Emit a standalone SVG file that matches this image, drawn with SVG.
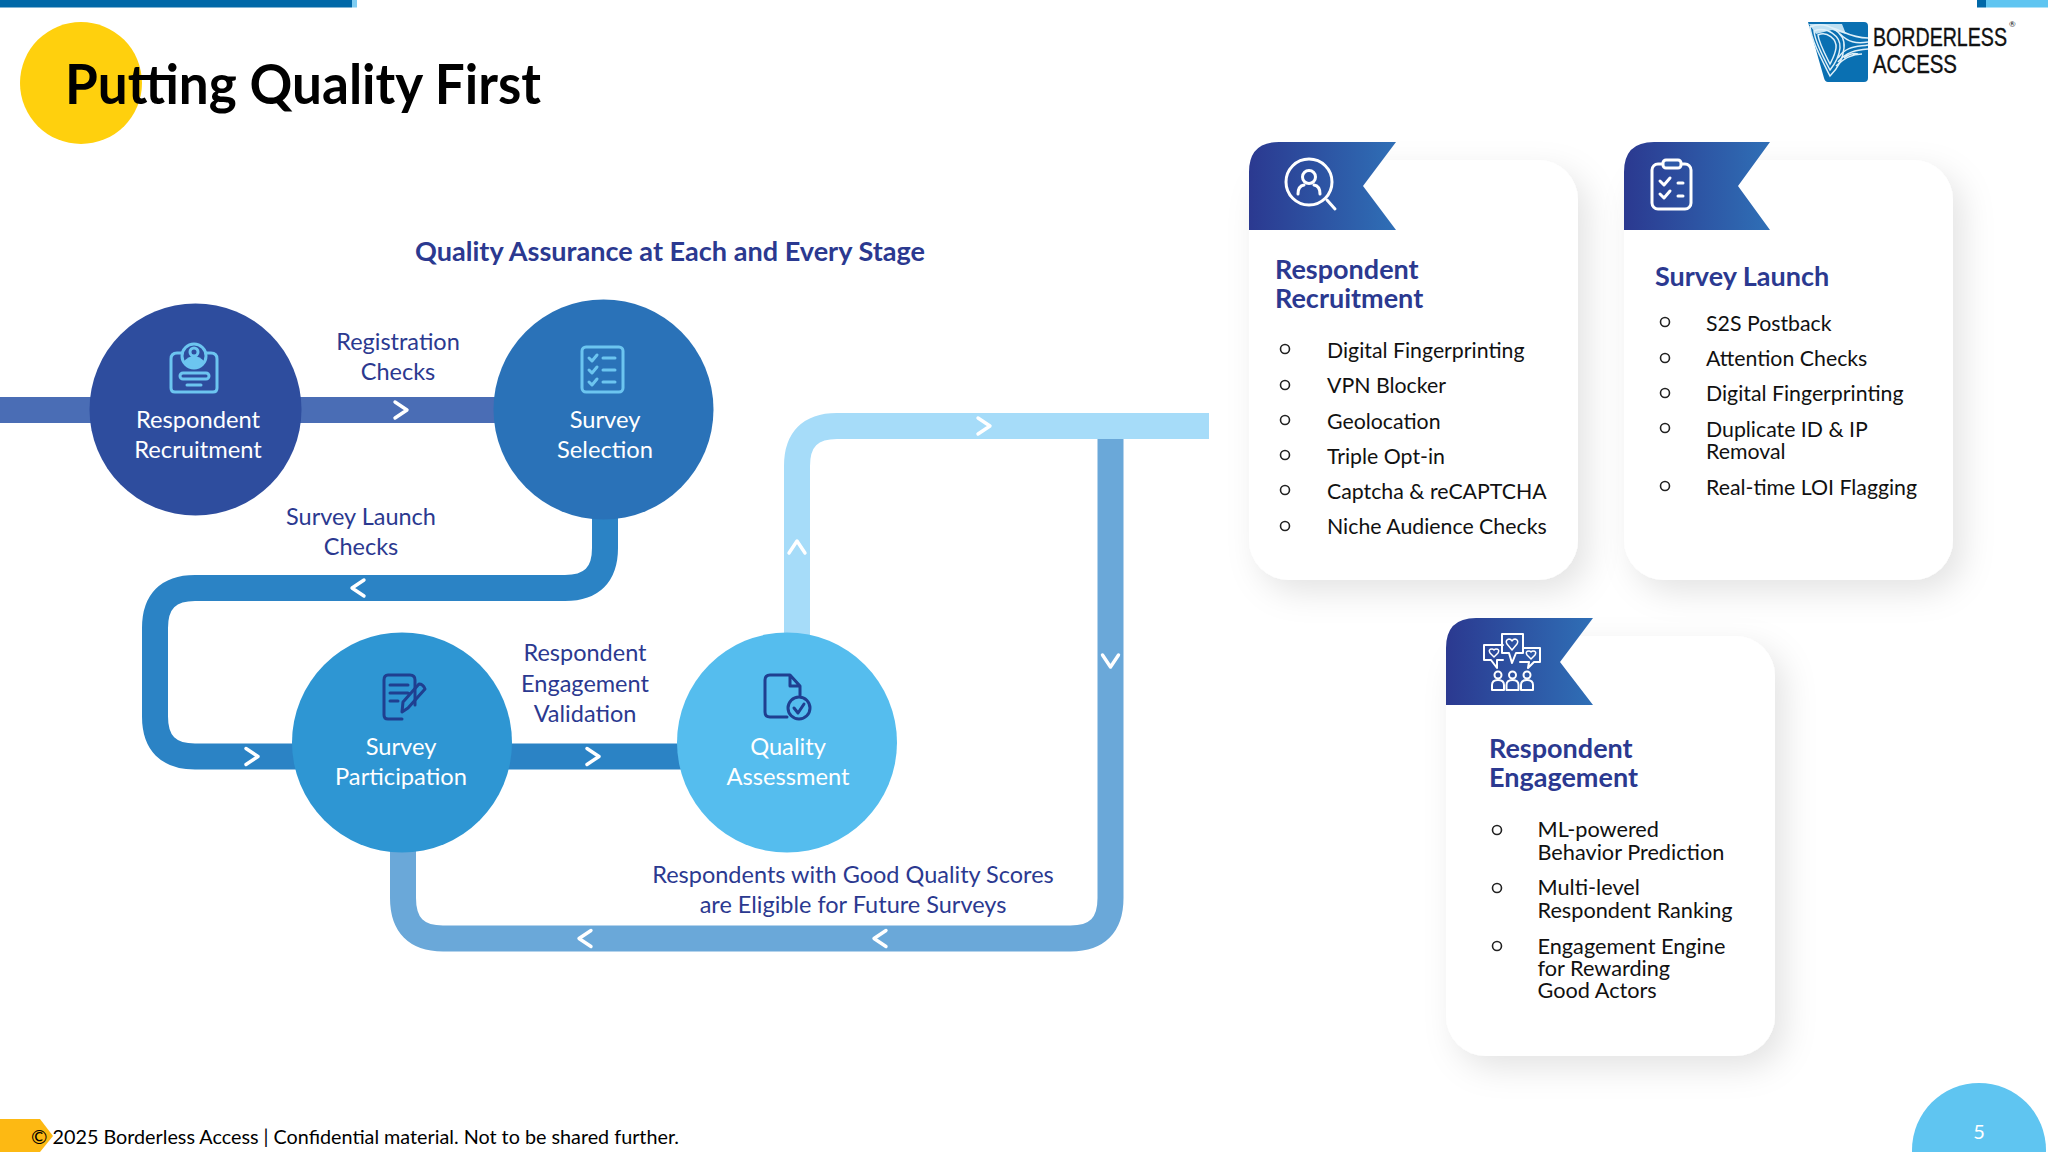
<svg xmlns="http://www.w3.org/2000/svg" width="2048" height="1152" viewBox="0 0 2048 1152">
<style>
text{font-family:Lato,"Liberation Sans",sans-serif}
.lbl{font-size:23.5px;fill:#2b3990;text-anchor:middle}
.cir{font-size:23.7px;fill:#fff;text-anchor:middle}
.h{font-size:27px;font-weight:700;fill:#2b3990}
.it{font-size:21.3px;fill:#111}
.it3{font-size:21.7px;fill:#111}
.b{fill:none;stroke:#222;stroke-width:1.6}
.card{fill:#fff;filter:url(#sh)}
.ch{fill:none;stroke:#fff;stroke-width:3.4;stroke-linecap:round;stroke-linejoin:round}
.pipe{fill:none;stroke-width:26}
.w{fill:none;stroke:#fff;stroke-width:3;stroke-linecap:round;stroke-linejoin:round}
.t{fill:none;stroke:#fff;stroke-width:2;stroke-linecap:round;stroke-linejoin:round}
.li{fill:none;stroke:#6cc5f0;stroke-width:3;stroke-linecap:round;stroke-linejoin:round}
.da{fill:none;stroke:#1f3f90;stroke-width:3;stroke-linecap:round;stroke-linejoin:round}
.sw{fill:none;stroke:#dff0f9;stroke-width:1.5}
.lg{font-size:25px;fill:#111;stroke:#111;stroke-width:.35;font-family:"Liberation Sans",sans-serif}
</style>
<defs>
<filter id="sh" x="-30%" y="-30%" width="160%" height="160%"><feDropShadow dx="10" dy="12" stdDeviation="16" flood-color="#000" flood-opacity="0.11"/></filter>
<linearGradient id="rib" x1="0" x2="1" y1="0" y2="0"><stop offset="0" stop-color="#2b3990"/><stop offset="1" stop-color="#2f6fb6"/></linearGradient>
<path id="chev" d="M-6-8 L6 0 L-6 8" class="ch"/>
</defs>
<rect width="2048" height="1152" fill="#fff"/>
<g id="header">
<rect x="0" y="0" width="352" height="7.5" fill="#0068a8"/><rect x="352" y="0" width="5" height="7.5" fill="#7fcdf2"/>
<rect x="1977" y="0" width="9" height="7.5" fill="#0068a8"/><rect x="1986" y="0" width="62" height="7.5" fill="#5fc5f1"/>
<circle cx="81" cy="83" r="61" fill="#ffd00d"/>
<text x="65" y="104" font-weight="700" fill="#000" style="font-size:56px" textLength="476" lengthAdjust="spacingAndGlyphs">Putting Quality First</text>
</g>
<g id="logo">
<path d="M1808 22H1864Q1868 22 1868 26V78Q1868 82 1864 82H1828Q1825 82 1824 78Z" fill="#0a70b2"/>
<path d="M1809 24H1842L1846 34L1832 30L1816 34Z" fill="#bfe0f2"/>
<path class="sw" d="M1810 27C1826 20 1846 32 1844 48C1843 60 1836 70 1830 76C1822 60 1812 42 1810 27Z"/>
<path class="sw" d="M1814 31C1827 26 1841 36 1840 48C1839 58 1834 65 1830 70C1823 57 1815 42 1814 31Z"/>
<path class="sw" d="M1818 35C1827 31 1837 39 1836 48C1835 55 1832 60 1830 64C1825 54 1819 43 1818 35Z"/>
<path class="sw" d="M1832 28C1842 30 1850 38 1868 38M1840 34C1848 42 1856 44 1868 42M1838 58C1846 46 1856 47 1868 45M1838 62C1846 52 1856 50 1868 49M1836 66C1844 58 1854 54 1862 54M1844 58Q1852 52 1858 54"/>
<text class="lg" x="1873" y="46" textLength="134" lengthAdjust="spacingAndGlyphs">BORDERLESS</text>
<text class="lg" x="1873" y="73" textLength="84" lengthAdjust="spacingAndGlyphs">ACCESS</text>
<text x="2009" y="27" fill="#111" style="font-size:8px">®</text>
</g>
<text id="stage-title" x="415" y="261" style="font-size:27.5px;font-weight:700;fill:#2b3990" textLength="510" lengthAdjust="spacingAndGlyphs">Quality Assurance at Each and Every Stage</text>
<g id="connectors">
<path class="pipe" stroke="#6aa8d9" d="M1110.500 426V898Q1110.500 938.500 1070.500 938.500H443Q403 938.500 403 898V840"/>
<path class="pipe" stroke="#a6dcf9" d="M797 650V466Q797 426 837 426H1209"/>
<path class="pipe" stroke="#4a6db5" d="M0 410H500"/>
<path class="pipe" stroke="#2b83c5" d="M605 510V548Q605 588 565 588H195Q155 588 155 628V716.500Q155 756.500 195 756.500H690"/>
<use href="#chev" x="401" y="410"/>
<use href="#chev" transform="translate(358 588) rotate(180)"/>
<use href="#chev" x="252" y="756.500"/>
<use href="#chev" x="593" y="756.500"/>
<use href="#chev" x="984" y="426"/>
<use href="#chev" transform="translate(797 547) rotate(-90)"/>
<use href="#chev" transform="translate(1110.500 661) rotate(90)"/>
<use href="#chev" transform="translate(880 938.500) rotate(180)"/>
<use href="#chev" transform="translate(585 938.500) rotate(180)"/>
</g>
<g id="node-recruitment">
<circle cx="195.500" cy="409.500" r="106" fill="#2e4d9e"/>
<path class="li" d="M182 353H177Q171 353 171 359V388Q171 392 175 392H213Q217 392 217 388V359Q217 353 211 353H206"/>
<circle cx="194" cy="356" r="12" class="li"/><circle cx="194" cy="352" r="4" class="li"/><path d="M183 362Q194 350 205 362Q194 374 183 362Z" fill="#6cc5f0"/>
<rect x="180" y="373" width="29" height="6" rx="3" class="li"/><path class="li" d="M187 385H201"/>
<text class="cir" x="198" y="428">Respondent</text><text class="cir" x="198" y="458">Recruitment</text>
</g>
<g id="node-selection">
<circle cx="603.500" cy="409.500" r="110" fill="#2a72b8"/>
<rect x="582" y="347" width="41" height="45" rx="4" class="li"/>
<path class="li" d="M589 358l3 3 5-6M603 358H615M589 370l3 3 5-6M603 370H615M589 382l3 3 5-6M603 382H615"/>
<text class="cir" x="605" y="428">Survey</text><text class="cir" x="605" y="458">Selection</text>
</g>
<g id="node-participation">
<circle cx="402" cy="742.500" r="110" fill="#2e96d3"/>
<path class="da" d="M415 705V680Q415 675 410 675H388Q384 675 384 680V715Q384 719 388 719H402"/>
<path class="da" d="M390 685H408M390 693H408M390 701H398M402 712L403 702L419 684Q423 684 425 689L408 708Z"/>
<text class="cir" x="401" y="755">Survey</text><text class="cir" x="401" y="785">Participation</text>
</g>
<g id="node-assessment">
<circle cx="787" cy="742.500" r="110" fill="#55bdee"/>
<path class="da" d="M787 717H770Q765 717 765 712V680Q765 675 770 675H790L800 686V695M790 675V686H800"/>
<circle cx="799" cy="708" r="11" class="da"/><path class="da" d="M794 708l4 5 6-9"/>
<text class="cir" x="788" y="755">Quality</text><text class="cir" x="788" y="785">Assessment</text>
</g>
<g id="labels">
<text class="lbl" x="398" y="350">Registration</text><text class="lbl" x="398" y="380">Checks</text>
<text class="lbl" x="361" y="525">Survey Launch</text><text class="lbl" x="361" y="555">Checks</text>
<text class="lbl" x="585" y="661">Respondent</text><text class="lbl" x="585" y="692">Engagement</text><text class="lbl" x="585" y="722">Validation</text>
<text class="lbl" x="853" y="883">Respondents with Good Quality Scores</text><text class="lbl" x="853" y="913">are Eligible for Future Surveys</text>
</g>
<g id="card-recruitment">
<rect class="card" x="1249" y="160" width="329" height="420" rx="40"/>
<path d="M1249 230V172Q1249 142 1279 142H1396L1363 186L1396 230Z" fill="url(#rib)"/>
<circle cx="1309" cy="182" r="23" class="w"/><circle cx="1309" cy="177" r="6.500" class="w"/><path class="w" d="M1298 194Q1298 186 1304 185M1320 194Q1320 186 1314 185M1327 200L1335 209"/>
<text class="h" x="1275" y="279">Respondent</text><text class="h" x="1275" y="308">Recruitment</text>
<circle class="b" cx="1285" cy="349" r="4.500"/><text class="it" x="1327" y="358">Digital Fingerprinting</text>
<circle class="b" cx="1285" cy="385" r="4.500"/><text class="it" x="1327" y="393">VPN Blocker</text>
<circle class="b" cx="1285" cy="420" r="4.500"/><text class="it" x="1327" y="428.500">Geolocation</text>
<circle class="b" cx="1285" cy="455" r="4.500"/><text class="it" x="1327" y="464">Triple Opt-in</text>
<circle class="b" cx="1285" cy="490" r="4.500"/><text class="it" x="1327" y="499">Captcha &amp; reCAPTCHA</text>
<circle class="b" cx="1285" cy="526" r="4.500"/><text class="it" x="1327" y="534">Niche Audience Checks</text>
</g>
<g id="card-launch">
<rect class="card" x="1624" y="160" width="329" height="420" rx="40"/>
<path d="M1624 230V172Q1624 142 1654 142H1770L1738 186L1770 230Z" fill="url(#rib)"/>
<rect x="1652" y="164" width="39" height="45" rx="6" class="w"/><rect x="1663" y="160" width="18" height="8" rx="3" class="w" style="fill:#2f5aa8"/>
<path class="w" d="M1660 181l4 4 6-7M1660 194l4 4 6-7M1678 183H1683M1678 196H1683"/>
<text class="h" x="1655" y="286">Survey Launch</text>
<circle class="b" cx="1665" cy="322" r="4.500"/><text class="it" x="1706" y="331">S2S Postback</text>
<circle class="b" cx="1665" cy="358" r="4.500"/><text class="it" x="1706" y="366">Attention Checks</text>
<circle class="b" cx="1665" cy="393" r="4.500"/><text class="it" x="1706" y="401">Digital Fingerprinting</text>
<circle class="b" cx="1665" cy="428" r="4.500"/><text class="it" x="1706" y="437">Duplicate ID &amp; IP</text><text class="it" x="1706" y="459">Removal</text>
<circle class="b" cx="1665" cy="486" r="4.500"/><text class="it" x="1706" y="495">Real-time LOI Flagging</text>
</g>
<g id="card-engagement">
<rect class="card" x="1446" y="636" width="329" height="420" rx="40"/>
<path d="M1446 705V648Q1446 618 1476 618H1593L1560 662L1593 705Z" fill="url(#rib)"/>
<path class="t" d="M1503 645H1484V660H1491L1497 668L1497 660H1503M1523 648H1540V662H1534L1528 668L1529 662H1520M1502 634H1523V653H1516L1512 663L1509 653H1502Z"/>
<path class="t" d="M1512 650L1507 644Q1505 640 1509 639Q1511 639 1512 641Q1513 639 1515 639Q1519 640 1517 644ZM1494 657L1490 653Q1488 649 1492 649Q1493 649 1494 650Q1495 649 1496 649Q1500 649 1498 653ZM1531 659L1527 655Q1525 651 1529 651Q1530 651 1531 652Q1532 651 1533 651Q1537 651 1535 655Z" style="stroke-width:1.5"/>
<circle cx="1498" cy="675" r="3.500" class="t"/><path class="t" d="M1492 690V685Q1492 680 1498 680Q1504 680 1504 685V690Z"/>
<circle cx="1512.500" cy="675" r="3.500" class="t"/><path class="t" d="M1506.500 690V685Q1506.500 680 1512.500 680Q1518.500 680 1518.500 685V690Z"/>
<circle cx="1527" cy="675" r="3.500" class="t"/><path class="t" d="M1521 690V685Q1521 680 1527 680Q1533 680 1533 685V690Z"/>
<text class="h" x="1489" y="758">Respondent</text><text class="h" x="1489" y="787">Engagement</text>
<circle class="b" cx="1497" cy="830" r="4.500"/><text class="it3" x="1537.500" y="837">ML-powered</text><text class="it3" x="1537.500" y="860">Behavior Prediction</text>
<circle class="b" cx="1497" cy="888" r="4.500"/><text class="it3" x="1537.500" y="895">Multi-level</text><text class="it3" x="1537.500" y="918">Respondent Ranking</text>
<circle class="b" cx="1497" cy="946" r="4.500"/><text class="it3" x="1537.500" y="954">Engagement Engine</text><text class="it3" x="1537.500" y="976">for Rewarding</text><text class="it3" x="1537.500" y="998">Good Actors</text>
</g>
<g id="footer">
<path d="M0 1119H40L53 1136L40 1152H0Z" fill="#fdb913"/>
<text x="31" y="1144" style="font-size:20px" fill="#000" textLength="648" lengthAdjust="spacingAndGlyphs">© 2025 Borderless Access | Confidential material. Not to be shared further.</text>
<circle cx="1979" cy="1150" r="67" fill="#5fc5f1"/>
<text x="1979" y="1139" text-anchor="middle" fill="#fff" style="font-size:20px">5</text>
</g>
</svg>
